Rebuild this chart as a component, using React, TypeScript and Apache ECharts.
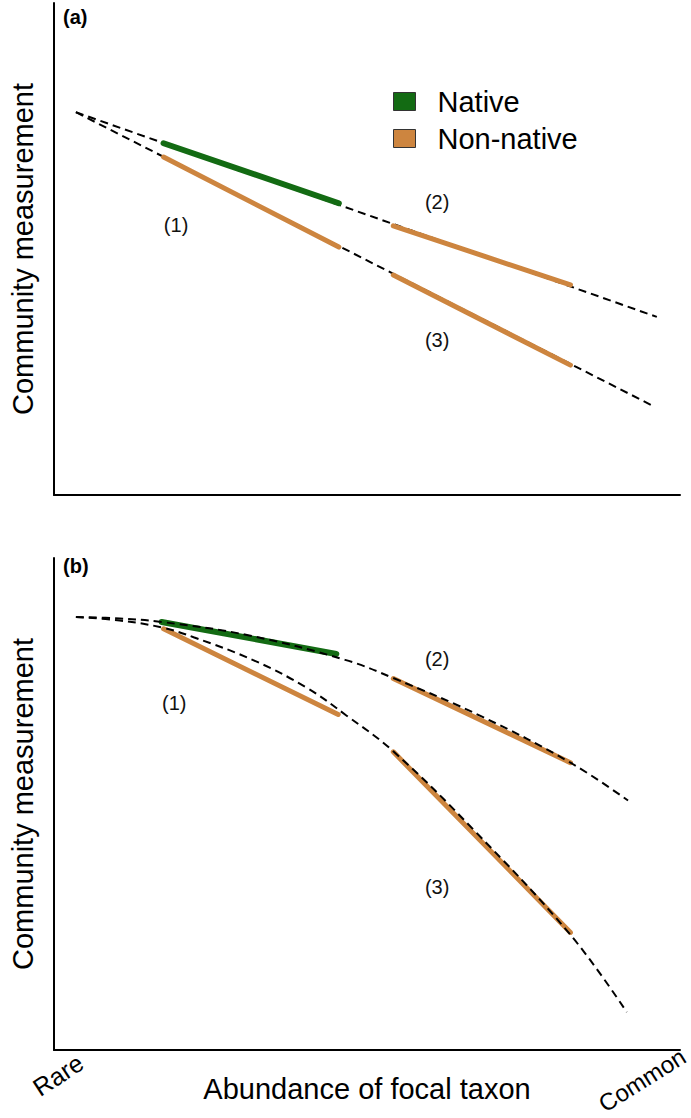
import React, { useEffect, useRef } from "react";
import * as echarts from "echarts";

// Abundance (x) and community measurement (y) are both on a 0–100 relative scale.

// Panel (a): linear trends
const aUpperTrend = [[3.5, 77.8], [96.3, 36.2]];
const aLowerTrend = [[3.5, 77.8], [96.0, 17.9]];
const aNative1 = [[17.5, 71.5], [45.5, 59.3]];
const aNonNative1 = [[17.5, 68.7], [45.5, 50.4]];
const aNonNative2 = [[54.2, 54.7], [82.5, 42.7]];
const aNonNative3 = [[54.2, 44.7], [82.5, 26.4]];

// Panel (b): curved trends
const bUpperTrend = [
  [3.5, 88.0], [10.5, 87.7], [17.2, 87.0], [31.0, 84.3], [46.5, 79.3],
  [54.2, 75.6], [68.3, 67.8], [82.5, 58.4], [91.7, 50.7],
];
const bLowerTrend = [
  [3.5, 88.0], [10.5, 87.3], [17.5, 85.8], [22.3, 83.9], [31.9, 79.2],
  [40.4, 73.6], [46.7, 68.0], [54.2, 60.7], [67.0, 44.8], [82.5, 23.4], [91.5, 7.7],
];
const bNative1 = [[17.2, 87.0], [45.1, 80.5]];
const bNonNative1 = [[17.5, 85.6], [45.4, 68.2]];
const bNonNative2 = [[54.2, 75.5], [82.5, 58.4]];
const bNonNative3 = [[54.2, 60.6], [82.5, 23.9]];

// Scenario labels
const scenarioNames = ["(1)", "(2)", "(3)"];
const aScenarioPos = [[19.5, 54.9], [61.2, 59.6], [61.2, 31.5]];
const bScenarioPos = [[19.2, 70.6], [61.2, 79.5], [61.2, 33.1]];

const legendNames = ["Native", "Non-native"];
const axisEnds = ["Rare", "Common"];

const NATIVE = "#136b13";
const NON_NATIVE = "#cd853f";
const FONT = "'Liberation Sans', Arial, sans-serif";

function segment(name: string, data: number[][], idx: number, color: string, width: number) {
  return {
    type: "line",
    name,
    xAxisIndex: idx,
    yAxisIndex: idx,
    data,
    color,
    showSymbol: false,
    silent: true,
    z: 3,
    lineStyle: { color, width, cap: "round" },
  };
}

function trend(data: number[][], idx: number, smooth: number | boolean, z: number) {
  return {
    type: "line",
    name: "trend",
    xAxisIndex: idx,
    yAxisIndex: idx,
    data,
    smooth,
    showSymbol: false,
    silent: true,
    z,
    lineStyle: { color: "#000", width: 2, type: [8, 5] },
  };
}

function scenarioLabels(pos: number[][], idx: number) {
  return {
    type: "scatter",
    name: "scenario",
    xAxisIndex: idx,
    yAxisIndex: idx,
    symbolSize: 1,
    silent: true,
    itemStyle: { color: "rgba(0,0,0,0)" },
    label: {
      show: true,
      position: "inside",
      formatter: "{b}",
      fontSize: 20,
      color: "#111",
      opacity: 1,
      fontFamily: FONT,
    },
    data: pos.map((p, i) => ({ value: p, name: scenarioNames[i] })),
  };
}

function valueAxis(idx: number, extra: any = {}) {
  return {
    type: "value",
    gridIndex: idx,
    min: 0,
    max: 100,
    axisLine: { show: true, onZero: false, lineStyle: { color: "#000", width: 2 } },
    axisTick: { show: false },
    axisLabel: { show: false },
    splitLine: { show: false },
    ...extra,
  };
}

const yName = {
  name: "Community measurement",
  nameLocation: "middle",
  nameRotate: 90,
  nameGap: 17,
  nameTextStyle: { fontSize: 29, color: "#000", fontFamily: FONT },
};

export default function App() {
  const ref = useRef<HTMLDivElement>(null);

  useEffect(() => {
    document.body.style.margin = "0";
    if (!ref.current) return;
    const chart = echarts.init(ref.current, null, { renderer: "svg" });
    chart.setOption({
      animation: false,
      backgroundColor: "#fff",
      textStyle: { fontFamily: FONT },
      grid: [
        { left: 53, right: 11, top: 3, height: 492 },
        { left: 53, right: 11, top: 558, height: 492 },
      ],
      xAxis: [
        valueAxis(0),
        valueAxis(1, {
          name: "Abundance of focal taxon",
          nameLocation: "middle",
          nameGap: 24,
          nameTextStyle: { fontSize: 29, color: "#000", fontFamily: FONT },
        }),
      ],
      yAxis: [valueAxis(0, yName), valueAxis(1, yName)],
      legend: {
        data: legendNames,
        orient: "vertical",
        left: 393,
        top: 87,
        padding: 0,
        itemWidth: 22,
        itemHeight: 18,
        itemGap: 8,
        icon: "rect",
        selectedMode: false,
        itemStyle: { borderColor: "#333", borderWidth: 1 },
        textStyle: {
          fontSize: 29,
          lineHeight: 28,
          color: "#000",
          fontFamily: FONT,
          padding: [0, 0, 0, 17],
        },
      },
      graphic: [
        {
          type: "text",
          x: 63,
          y: 17,
          style: { text: "(a)", fill: "#000", verticalAlign: "middle", font: `bold 20px ${FONT}` },
        },
        {
          type: "text",
          x: 63,
          y: 566,
          style: { text: "(b)", fill: "#000", verticalAlign: "middle", font: `bold 20px ${FONT}` },
        },
        {
          type: "text",
          x: 58,
          y: 1075,
          rotation: 0.58,
          style: { text: axisEnds[0], font: `25px ${FONT}`, fill: "#000", align: "center", verticalAlign: "middle" },
        },
        {
          type: "text",
          x: 642,
          y: 1080,
          rotation: 0.56,
          style: { text: axisEnds[1], font: `24px ${FONT}`, fill: "#000", align: "center", verticalAlign: "middle" },
        },
      ],
      series: [
        // panel (a): trends underneath the segments
        trend(aUpperTrend, 0, false, 2),
        trend(aLowerTrend, 0, false, 2),
        segment("Native", aNative1, 0, NATIVE, 6),
        segment("Non-native", aNonNative1, 0, NON_NATIVE, 5),
        segment("Non-native", aNonNative2, 0, NON_NATIVE, 5),
        segment("Non-native", aNonNative3, 0, NON_NATIVE, 5),
        scenarioLabels(aScenarioPos, 0),
        // panel (b): curved trends drawn over the segments
        segment("Native", bNative1, 1, NATIVE, 6),
        segment("Non-native", bNonNative1, 1, NON_NATIVE, 5),
        segment("Non-native", bNonNative2, 1, NON_NATIVE, 5),
        segment("Non-native", bNonNative3, 1, NON_NATIVE, 5),
        trend(bUpperTrend, 1, 0.4, 4),
        trend(bLowerTrend, 1, 0.4, 4),
        scenarioLabels(bScenarioPos, 1),
      ],
    });
    return () => chart.dispose();
  }, []);

  return <div ref={ref} style={{ width: 691, height: 1118 }} />;
}
